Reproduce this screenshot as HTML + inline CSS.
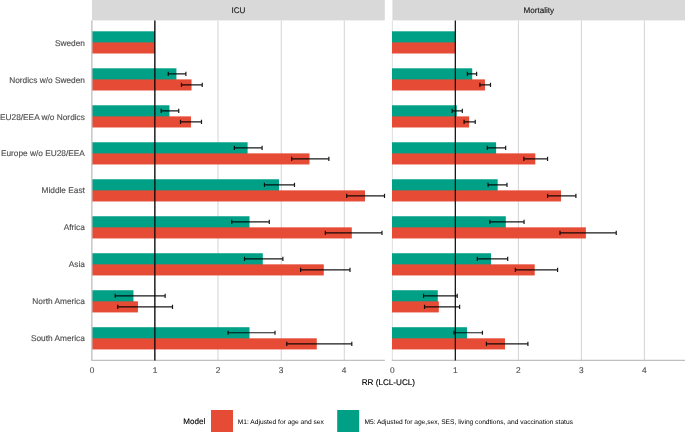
<!DOCTYPE html><html><head><meta charset="utf-8"><style>html,body{margin:0;padding:0;background:#fff;width:685px;height:433px;overflow:hidden}svg{display:block;will-change:transform}text{font-family:"Liberation Sans",sans-serif;text-rendering:geometricPrecision;stroke:currentColor;stroke-width:0.13px}</style></head><body>
<svg width="685" height="433" viewBox="0 0 685 433">
<rect width="685" height="433" fill="#fff"/>
<rect x="92.00" y="0" width="292.80" height="20.40" fill="#D9D9D9"/>
<text x="238.40" y="13.1" font-size="8.15" fill="#1A1A1A" color="#1A1A1A" text-anchor="middle">ICU</text>
<line x1="155.00" y1="20.40" x2="155.00" y2="360.51" stroke="#D6D6D6" stroke-width="1.07"/>
<line x1="218.00" y1="20.40" x2="218.00" y2="360.51" stroke="#D6D6D6" stroke-width="1.07"/>
<line x1="281.30" y1="20.40" x2="281.30" y2="360.51" stroke="#D6D6D6" stroke-width="1.07"/>
<line x1="344.30" y1="20.40" x2="344.30" y2="360.51" stroke="#D6D6D6" stroke-width="1.07"/>
<rect x="92.00" y="31.30" width="63.00" height="11.90" fill="#00A087"/>
<rect x="92.00" y="42.40" width="63.00" height="11.10" fill="#E64B35"/>
<rect x="92.00" y="68.29" width="84.42" height="11.90" fill="#00A087"/>
<rect x="92.00" y="79.39" width="99.54" height="11.10" fill="#E64B35"/>
<rect x="92.00" y="105.28" width="77.43" height="11.90" fill="#00A087"/>
<rect x="92.00" y="116.38" width="98.97" height="11.10" fill="#E64B35"/>
<rect x="92.00" y="142.27" width="155.61" height="11.90" fill="#00A087"/>
<rect x="92.00" y="153.37" width="217.48" height="11.10" fill="#E64B35"/>
<rect x="92.00" y="179.26" width="186.98" height="11.90" fill="#00A087"/>
<rect x="92.00" y="190.36" width="272.98" height="11.10" fill="#E64B35"/>
<rect x="92.00" y="216.25" width="157.50" height="11.90" fill="#00A087"/>
<rect x="92.00" y="227.35" width="259.81" height="11.10" fill="#E64B35"/>
<rect x="92.00" y="253.24" width="170.79" height="11.90" fill="#00A087"/>
<rect x="92.00" y="264.34" width="231.78" height="11.10" fill="#E64B35"/>
<rect x="92.00" y="290.23" width="41.45" height="11.90" fill="#00A087"/>
<rect x="92.00" y="301.33" width="45.93" height="11.10" fill="#E64B35"/>
<rect x="92.00" y="327.22" width="157.50" height="11.90" fill="#00A087"/>
<rect x="92.00" y="338.32" width="224.78" height="11.10" fill="#E64B35"/>
<line x1="91.85" y1="20.40" x2="91.85" y2="360.51" stroke="#C0C0C0" stroke-width="1.35"/>
<line x1="91.40" y1="360.36" x2="384.80" y2="360.36" stroke="#C0C0C0" stroke-width="1.3"/>
<line x1="154.85" y1="20.40" x2="154.85" y2="360.51" stroke="#000" stroke-width="1.25"/>
<g stroke="#000" stroke-opacity="0.9" stroke-width="1.2" fill="none"><path d="M168.23 71.74V75.94M168.23 73.84H185.87M185.87 71.74V75.94"/></g>
<g stroke="#000" stroke-opacity="0.9" stroke-width="1.2" fill="none"><path d="M181.46 82.84V87.04M181.46 84.94H202.25M202.25 82.84V87.04"/></g>
<g stroke="#000" stroke-opacity="0.9" stroke-width="1.2" fill="none"><path d="M161.17 108.73V112.93M161.17 110.83H178.75M178.75 108.73V112.93"/></g>
<g stroke="#000" stroke-opacity="0.9" stroke-width="1.2" fill="none"><path d="M180.51 119.83V124.03M180.51 121.93H201.49M201.49 119.83V124.03"/></g>
<g stroke="#000" stroke-opacity="0.9" stroke-width="1.2" fill="none"><path d="M234.38 145.72V149.92M234.38 147.82H262.10M262.10 145.72V149.92"/></g>
<g stroke="#000" stroke-opacity="0.9" stroke-width="1.2" fill="none"><path d="M291.71 156.82V161.02M291.71 158.92H328.88M328.88 156.82V161.02"/></g>
<g stroke="#000" stroke-opacity="0.9" stroke-width="1.2" fill="none"><path d="M264.43 182.71V186.91M264.43 184.81H294.48M294.48 182.71V186.91"/></g>
<g stroke="#000" stroke-opacity="0.9" stroke-width="1.2" fill="none"><path d="M346.71 193.81V198.01M346.71 195.91H384.51M384.51 193.81V198.01"/></g>
<g stroke="#000" stroke-opacity="0.9" stroke-width="1.2" fill="none"><path d="M231.73 219.70V223.90M231.73 221.80H269.28M269.28 219.70V223.90"/></g>
<g stroke="#000" stroke-opacity="0.9" stroke-width="1.2" fill="none"><path d="M325.35 230.80V235.00M325.35 232.90H381.99M381.99 230.80V235.00"/></g>
<g stroke="#000" stroke-opacity="0.9" stroke-width="1.2" fill="none"><path d="M244.52 256.69V260.89M244.52 258.79H282.89M282.89 256.69V260.89"/></g>
<g stroke="#000" stroke-opacity="0.9" stroke-width="1.2" fill="none"><path d="M300.59 267.79V271.99M300.59 269.89H349.98M349.98 267.79V271.99"/></g>
<g stroke="#000" stroke-opacity="0.9" stroke-width="1.2" fill="none"><path d="M115.18 293.68V297.88M115.18 295.78H165.14M165.14 293.68V297.88"/></g>
<g stroke="#000" stroke-opacity="0.9" stroke-width="1.2" fill="none"><path d="M117.70 304.78V308.98M117.70 306.88H172.51M172.51 304.78V308.98"/></g>
<g stroke="#000" stroke-opacity="0.9" stroke-width="1.2" fill="none"><path d="M228.08 330.67V334.87M228.08 332.77H275.01M275.01 330.67V334.87"/></g>
<g stroke="#000" stroke-opacity="0.9" stroke-width="1.2" fill="none"><path d="M286.73 341.77V345.97M286.73 343.87H351.81M351.81 341.77V345.97"/></g>
<text x="92.00" y="373.2" font-size="8.3" fill="#4D4D4D" color="#4D4D4D" text-anchor="middle">0</text>
<text x="155.00" y="373.2" font-size="8.3" fill="#4D4D4D" color="#4D4D4D" text-anchor="middle">1</text>
<text x="218.00" y="373.2" font-size="8.3" fill="#4D4D4D" color="#4D4D4D" text-anchor="middle">2</text>
<text x="281.00" y="373.2" font-size="8.3" fill="#4D4D4D" color="#4D4D4D" text-anchor="middle">3</text>
<text x="344.00" y="373.2" font-size="8.3" fill="#4D4D4D" color="#4D4D4D" text-anchor="middle">4</text>
<rect x="392.40" y="0" width="292.80" height="20.40" fill="#D9D9D9"/>
<text x="538.80" y="13.1" font-size="8.15" fill="#1A1A1A" color="#1A1A1A" text-anchor="middle">Mortality</text>
<line x1="455.40" y1="20.40" x2="455.40" y2="360.51" stroke="#D6D6D6" stroke-width="1.07"/>
<line x1="518.40" y1="20.40" x2="518.40" y2="360.51" stroke="#D6D6D6" stroke-width="1.07"/>
<line x1="581.40" y1="20.40" x2="581.40" y2="360.51" stroke="#D6D6D6" stroke-width="1.07"/>
<line x1="644.40" y1="20.40" x2="644.40" y2="360.51" stroke="#D6D6D6" stroke-width="1.07"/>
<line x1="392.40" y1="20.40" x2="392.40" y2="360.51" stroke="#E2E2E2" stroke-width="1.07"/>
<rect x="392.00" y="31.30" width="63.40" height="11.90" fill="#00A087"/>
<rect x="392.00" y="42.40" width="63.40" height="11.10" fill="#E64B35"/>
<rect x="392.00" y="68.29" width="80.22" height="11.90" fill="#00A087"/>
<rect x="392.00" y="79.39" width="92.95" height="11.10" fill="#E64B35"/>
<rect x="392.00" y="105.28" width="64.79" height="11.90" fill="#00A087"/>
<rect x="392.00" y="116.38" width="77.13" height="11.10" fill="#E64B35"/>
<rect x="392.00" y="142.27" width="104.10" height="11.90" fill="#00A087"/>
<rect x="392.00" y="153.37" width="143.28" height="11.10" fill="#E64B35"/>
<rect x="392.00" y="179.26" width="105.67" height="11.90" fill="#00A087"/>
<rect x="392.00" y="190.36" width="168.99" height="11.10" fill="#E64B35"/>
<rect x="392.00" y="216.25" width="113.80" height="11.90" fill="#00A087"/>
<rect x="392.00" y="227.35" width="193.87" height="11.10" fill="#E64B35"/>
<rect x="392.00" y="253.24" width="99.00" height="11.90" fill="#00A087"/>
<rect x="392.00" y="264.34" width="142.72" height="11.10" fill="#E64B35"/>
<rect x="392.00" y="290.23" width="45.76" height="11.90" fill="#00A087"/>
<rect x="392.00" y="301.33" width="46.83" height="11.10" fill="#E64B35"/>
<rect x="392.00" y="327.22" width="74.99" height="11.90" fill="#00A087"/>
<rect x="392.00" y="338.32" width="112.98" height="11.10" fill="#E64B35"/>
<line x1="391.80" y1="360.36" x2="685.20" y2="360.36" stroke="#C0C0C0" stroke-width="1.3"/>
<line x1="455.30" y1="20.40" x2="455.30" y2="360.51" stroke="#000" stroke-width="1.15"/>
<g stroke="#000" stroke-opacity="0.9" stroke-width="1.2" fill="none"><path d="M467.37 71.74V75.94M467.37 73.84H476.63M476.63 71.74V75.94"/></g>
<g stroke="#000" stroke-opacity="0.9" stroke-width="1.2" fill="none"><path d="M479.91 82.84V87.04M479.91 84.94H490.49M490.49 82.84V87.04"/></g>
<g stroke="#000" stroke-opacity="0.9" stroke-width="1.2" fill="none"><path d="M452.12 108.73V112.93M452.12 110.83H462.33M462.33 108.73V112.93"/></g>
<g stroke="#000" stroke-opacity="0.9" stroke-width="1.2" fill="none"><path d="M464.09 119.83V124.03M464.09 121.93H475.25M475.25 119.83V124.03"/></g>
<g stroke="#000" stroke-opacity="0.9" stroke-width="1.2" fill="none"><path d="M487.28 145.72V149.92M487.28 147.82H505.67M505.67 145.72V149.92"/></g>
<g stroke="#000" stroke-opacity="0.9" stroke-width="1.2" fill="none"><path d="M523.82 156.82V161.02M523.82 158.92H547.57M547.57 156.82V161.02"/></g>
<g stroke="#000" stroke-opacity="0.9" stroke-width="1.2" fill="none"><path d="M488.03 182.71V186.91M488.03 184.81H507.00M507.00 182.71V186.91"/></g>
<g stroke="#000" stroke-opacity="0.9" stroke-width="1.2" fill="none"><path d="M547.57 193.81V198.01M547.57 195.91H575.92M575.92 193.81V198.01"/></g>
<g stroke="#000" stroke-opacity="0.9" stroke-width="1.2" fill="none"><path d="M489.80 219.70V223.90M489.80 221.80H524.07M524.07 219.70V223.90"/></g>
<g stroke="#000" stroke-opacity="0.9" stroke-width="1.2" fill="none"><path d="M559.98 230.80V235.00M559.98 232.90H616.24M616.24 230.80V235.00"/></g>
<g stroke="#000" stroke-opacity="0.9" stroke-width="1.2" fill="none"><path d="M477.32 256.69V260.89M477.32 258.79H507.69M507.69 256.69V260.89"/></g>
<g stroke="#000" stroke-opacity="0.9" stroke-width="1.2" fill="none"><path d="M515.38 267.79V271.99M515.38 269.89H557.59M557.59 267.79V271.99"/></g>
<g stroke="#000" stroke-opacity="0.9" stroke-width="1.2" fill="none"><path d="M423.58 293.68V297.88M423.58 295.78H457.23M457.23 293.68V297.88"/></g>
<g stroke="#000" stroke-opacity="0.9" stroke-width="1.2" fill="none"><path d="M424.53 304.78V308.98M424.53 306.88H459.62M459.62 304.78V308.98"/></g>
<g stroke="#000" stroke-opacity="0.9" stroke-width="1.2" fill="none"><path d="M454.01 330.67V334.87M454.01 332.77H482.43M482.43 330.67V334.87"/></g>
<g stroke="#000" stroke-opacity="0.9" stroke-width="1.2" fill="none"><path d="M486.40 341.77V345.97M486.40 343.87H527.91M527.91 341.77V345.97"/></g>
<text x="392.40" y="373.2" font-size="8.3" fill="#4D4D4D" color="#4D4D4D" text-anchor="middle">0</text>
<text x="455.40" y="373.2" font-size="8.3" fill="#4D4D4D" color="#4D4D4D" text-anchor="middle">1</text>
<text x="518.40" y="373.2" font-size="8.3" fill="#4D4D4D" color="#4D4D4D" text-anchor="middle">2</text>
<text x="581.40" y="373.2" font-size="8.3" fill="#4D4D4D" color="#4D4D4D" text-anchor="middle">3</text>
<text x="644.40" y="373.2" font-size="8.3" fill="#4D4D4D" color="#4D4D4D" text-anchor="middle">4</text>
<text x="84.9" y="45.65" font-size="8.3" fill="#4D4D4D" color="#4D4D4D" text-anchor="end">Sweden</text>
<text x="84.9" y="82.58" font-size="8.3" fill="#4D4D4D" color="#4D4D4D" text-anchor="end">Nordics w/o Sweden</text>
<text x="84.9" y="119.51" font-size="8.3" fill="#4D4D4D" color="#4D4D4D" text-anchor="end">EU28/EEA w/o Nordics</text>
<text x="84.9" y="156.44" font-size="8.3" fill="#4D4D4D" color="#4D4D4D" text-anchor="end">Europe w/o EU28/EEA</text>
<text x="84.9" y="193.37" font-size="8.3" fill="#4D4D4D" color="#4D4D4D" text-anchor="end">Middle East</text>
<text x="84.9" y="230.30" font-size="8.3" fill="#4D4D4D" color="#4D4D4D" text-anchor="end">Africa</text>
<text x="84.9" y="267.23" font-size="8.3" fill="#4D4D4D" color="#4D4D4D" text-anchor="end">Asia</text>
<text x="84.9" y="304.16" font-size="8.3" fill="#4D4D4D" color="#4D4D4D" text-anchor="end">North America</text>
<text x="84.9" y="341.09" font-size="8.3" fill="#4D4D4D" color="#4D4D4D" text-anchor="end">South America</text>
<text x="388.4" y="385.2" font-size="8.15" fill="#000" color="#000" text-anchor="middle">RR (LCL-UCL)</text>
<text x="183.3" y="423.8" font-size="8.05" fill="#000" color="#000">Model</text>
<rect x="211" y="410" width="22" height="22" fill="#E64B35"/>
<text x="237.8" y="424.0" font-size="6.65" style="stroke-width:0" fill="#000" color="#000">M1: Adjusted for age and sex</text>
<rect x="337.2" y="410" width="22" height="22" fill="#00A087"/>
<text x="364.4" y="424.0" font-size="6.65" style="stroke-width:0" fill="#000" color="#000">M5: Adjusted for age,sex, SES, living condtions, and vaccination status</text>
</svg></body></html>
